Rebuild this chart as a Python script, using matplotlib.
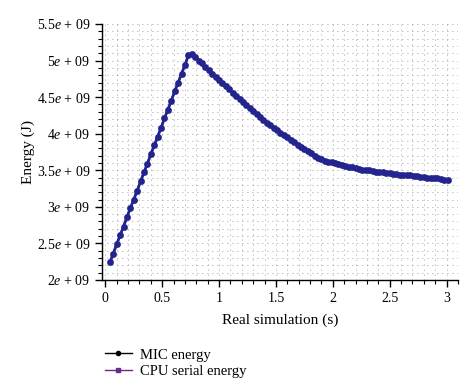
import numpy as np
import matplotlib
matplotlib.use("Agg")
import matplotlib.pyplot as plt
from matplotlib.lines import Line2D
from matplotlib.ticker import MultipleLocator, FuncFormatter

plt.rcParams['font.family'] = ['Liberation Serif', 'DejaVu Serif']
plt.rcParams['mathtext.fontset'] = 'custom'
plt.rcParams['mathtext.it'] = 'Liberation Serif:italic'
plt.rcParams['mathtext.rm'] = 'Liberation Serif'

# simulation time (s)
t = [0.04, 0.07, 0.10, 0.13, 0.16, 0.19, 0.22, 0.25, 0.28, 0.31,
     0.34, 0.37, 0.40, 0.43, 0.46, 0.49, 0.52, 0.55, 0.58, 0.61,
     0.64, 0.67, 0.70, 0.73, 0.76, 0.79, 0.82, 0.85, 0.88, 0.91,
     0.94, 0.97, 1.00, 1.03, 1.06, 1.09, 1.12, 1.15, 1.18, 1.21,
     1.24, 1.27, 1.30, 1.33, 1.36, 1.39, 1.42, 1.45, 1.48, 1.51,
     1.54, 1.57, 1.60, 1.63, 1.66, 1.69, 1.72, 1.75, 1.78, 1.81,
     1.84, 1.87, 1.90, 1.93, 1.96, 1.99, 2.02, 2.05, 2.08, 2.11,
     2.14, 2.17, 2.20, 2.23, 2.26, 2.29, 2.32, 2.35, 2.38, 2.41,
     2.44, 2.47, 2.50, 2.53, 2.56, 2.59, 2.62, 2.65, 2.68, 2.71,
     2.74, 2.77, 2.80, 2.83, 2.86, 2.89, 2.92, 2.95, 2.98, 3.01]

# energy in units of 1e9 J
mic = [2.24, 2.36, 2.49, 2.61, 2.73, 2.86, 2.98, 3.10, 3.22, 3.35,
       3.47, 3.59, 3.72, 3.84, 3.96, 4.08, 4.21, 4.33, 4.45, 4.58,
       4.70, 4.82, 4.94, 5.07, 5.09, 5.05, 5.00, 4.96, 4.91, 4.87,
       4.82, 4.78, 4.74, 4.69, 4.65, 4.61, 4.56, 4.52, 4.48, 4.43,
       4.39, 4.35, 4.31, 4.27, 4.23, 4.19, 4.15, 4.12, 4.08, 4.05,
       4.01, 3.98, 3.95, 3.92, 3.88, 3.85, 3.82, 3.79, 3.76, 3.73,
       3.70, 3.67, 3.65, 3.63, 3.62, 3.61, 3.60, 3.58, 3.57, 3.56,
       3.55, 3.54, 3.53, 3.52, 3.51, 3.51, 3.50, 3.49, 3.48, 3.48,
       3.47, 3.46, 3.46, 3.45, 3.45, 3.44, 3.44, 3.43, 3.43, 3.42,
       3.42, 3.41, 3.41, 3.40, 3.40, 3.39, 3.39, 3.38, 3.37, 3.37]
cpu = list(mic)

x = np.array(t)
y_mic = np.array(mic) * 1e9
y_cpu = np.array(cpu) * 1e9

fig = plt.figure(figsize=(4.74, 3.87), dpi=100)
ax = fig.add_axes([0.215, 0.2765, 0.751, 0.6615])

navy = '#24248f'
ax.plot(x, y_cpu, color=navy, lw=1.8, marker='s', ms=3, zorder=3)
ax.plot(x, y_mic, color=navy, lw=1.8, marker='o', ms=3.8, zorder=4)

ax.set_xlim(-0.03, 3.1)
ax.set_ylim(2e9, 5.5e9)
ax.xaxis.set_major_locator(MultipleLocator(0.5))
ax.xaxis.set_minor_locator(MultipleLocator(0.1))
ax.yaxis.set_major_locator(MultipleLocator(0.5e9))
ax.yaxis.set_minor_locator(MultipleLocator(0.1e9))


def fmt_y(v, pos):
    m = v / 1e9
    s = ('%.1f' % m).rstrip('0').rstrip('.')
    return s + '$e$ + 09'


def fmt_x(v, pos):
    return ('%.1f' % v).rstrip('0').rstrip('.')


ax.yaxis.set_major_formatter(FuncFormatter(fmt_y))
ax.xaxis.set_major_formatter(FuncFormatter(fmt_x))

for s in ['top', 'right']:
    ax.spines[s].set_visible(False)
for s in ['left', 'bottom']:
    ax.spines[s].set_linewidth(1.0)

ax.tick_params(which='major', length=5, width=1, labelsize=10, direction='out')
ax.tick_params(which='minor', length=3, width=0.8, direction='out')

ax.grid(True, which='both', color='#808080', linestyle=(0, (1, 5)), linewidth=0.6)
ax.set_axisbelow(True)

ax.set_xlabel('Real simulation (s)', fontsize=11, labelpad=6)
ax.set_ylabel('Energy (J)', fontsize=11, labelpad=1)

handles = [Line2D([], [], color='black', marker='o', ms=3, lw=1),
           Line2D([], [], color='#6a2a8a', marker='s', ms=3.5, lw=1)]
fig.legend(handles, ['MIC energy', 'CPU serial energy'],
           loc='upper left', bbox_to_anchor=(0.21, 0.115), frameon=False,
           fontsize=10.5, handlelength=1.8, handletextpad=0.6,
           labelspacing=0.2, borderaxespad=0)

fig.savefig('out.png', dpi=100)
